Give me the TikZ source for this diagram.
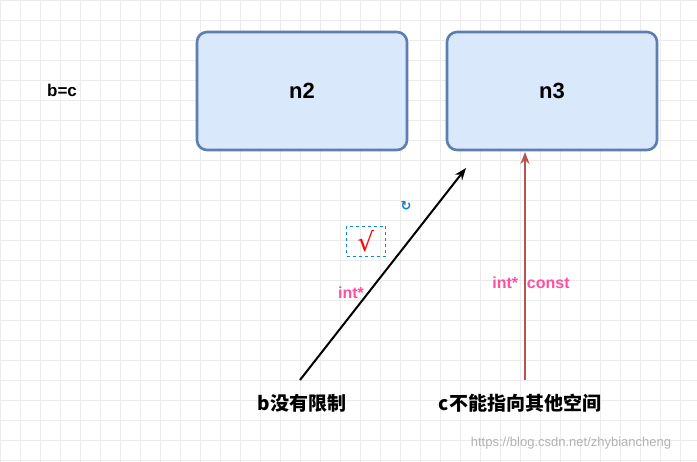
\documentclass[tikz,border=0pt]{standalone}
\usepackage{fontspec}
\setmainfont{Liberation Sans}
\newfontfamily\cjk{Noto Sans CJK SC}
\newfontfamily\dvs{DejaVu Sans}
\usetikzlibrary{arrows.meta}
\definecolor{boxfill}{HTML}{DAE8FC}
\definecolor{boxline}{HTML}{5C7EB0}
\definecolor{redline}{HTML}{B85450}
\definecolor{pinktxt}{HTML}{FF4FA0}
\definecolor{gridc}{HTML}{EBEBEB}
\tikzset{
  blk/.style={draw=boxline,line width=2.6pt,fill=boxfill,rounded corners=10pt,minimum width=210pt,minimum height=118pt,font=\bfseries\fontsize{22}{24}\selectfont},
  lbl/.style={font=\bfseries\fontsize{17}{19}\selectfont},
  pk/.style={font=\bfseries\fontsize{16}{18}\selectfont,text=pinktxt},
  cn/.style={font=\cjk\bfseries\fontsize{19}{21}\selectfont}
}
\begin{document}
\begin{tikzpicture}[x=1pt,y=-1pt]
\useasboundingbox (0,0) rectangle (697,462);
\fill[white] (0,0) rectangle (697,462);
\foreach \i in {0,20,...,697} \draw[gridc,line width=0.7pt] (\i,0) -- (\i,462);
\foreach \j in {0,20,...,462} \draw[gridc,line width=0.7pt] (0,\j) -- (697,\j);
\node[lbl] (bc) at (62,90) {b=c};
\node[blk] (n2) at (302,91) {n2};
\node[blk] (n3) at (552,91) {n3};
\node[cn] (b) at (302,403) {b没有限制};
\node[cn] (c) at (520,403) {c不能指向其他空间};
\coordinate (bs) at (300,380);
\coordinate (cs) at (525,380);
\coordinate (ce) at (525,152);
\coordinate (be) at (466,168);
\draw[-{Stealth[length=12pt,width=9pt]},line width=2pt] (bs) -- (be);
\draw[-{Stealth[length=12pt,width=9pt]},line width=2.2pt,redline] (cs) -- (ce);
\node[pk] (i1) at (351,293) {int*};
\node[pk] (i2) at (531,283) {int*\ \ const};
\node[draw=cyan!70!blue,dashed,line width=0.8pt,minimum width=39pt,minimum height=30pt] (chk) at (366,241) {};
\node[text=red,font=\dvs\fontsize{26}{26}\selectfont] at (chk) {√};
\node[text=cyan!60!blue,font=\dvs\bfseries\fontsize{13}{13}\selectfont] (rot) at (406,206) {↻};
\node[text=gray!60,font=\fontsize{13}{15}\selectfont] (wm) at (571,443) {https://blog.csdn.net/zhybiancheng};
\end{tikzpicture}
\end{document}
